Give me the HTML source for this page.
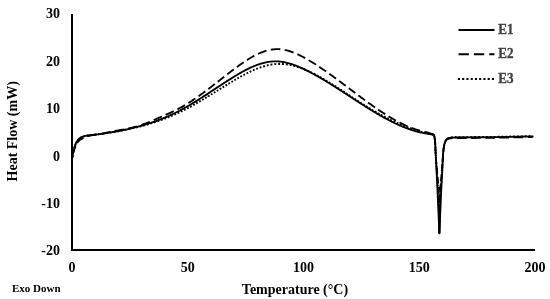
<!DOCTYPE html>
<html><head><meta charset="utf-8"><style>
html,body{margin:0;padding:0;background:#fff;}
svg{display:block;}
text{font-family:"Liberation Serif", "Times New Roman", serif;font-weight:bold;}
</style></head><body>
<svg width="550" height="299" viewBox="0 0 550 299">
<rect x="0" y="0" width="550" height="299" fill="#fff"/>
<g fill="none" stroke="#000" stroke-linejoin="round">

<path d="M72.52,156.19L72.53,156.16L72.61,155.69L72.69,155.21L72.75,154.84M73.01,153.50L73.03,153.41L73.13,152.94L73.22,152.46L73.29,152.15M73.60,150.81L73.62,150.75L73.73,150.27L73.85,149.79L73.93,149.47M74.28,148.13L74.30,148.05L74.43,147.59L74.56,147.13L74.66,146.80M75.09,145.47L75.10,145.45L75.27,144.99L75.44,144.54L75.60,144.16M76.18,142.86L76.22,142.78L76.44,142.36L76.66,141.95L76.87,141.59M77.74,140.38L77.74,140.37L78.05,140.01L78.36,139.65L78.67,139.31L78.76,139.22M79.94,138.15L79.97,138.13L80.38,137.86L80.80,137.63L81.22,137.41L81.46,137.30M83.14,136.62L83.22,136.59L83.63,136.45L84.05,136.32L84.47,136.19L84.88,136.07L84.91,136.06M86.76,135.66L86.80,135.65L87.22,135.58L87.63,135.52L88.05,135.46L88.47,135.40L88.66,135.38M90.57,135.13L90.63,135.12L91.05,135.07L91.47,135.01L91.88,134.96L92.30,134.91L92.49,134.89M94.40,134.67L94.47,134.67L94.88,134.62L95.30,134.58L95.72,134.53L96.13,134.49L96.32,134.47M98.25,134.27L98.30,134.26L98.72,134.22L99.13,134.18L99.55,134.14L99.93,134.11L100.17,134.07M102.06,133.77L102.09,133.77L102.55,133.70L103.00,133.64L103.45,133.57L103.91,133.50L103.96,133.50M105.86,133.21L105.91,133.21L106.36,133.14L106.82,133.07L107.27,133.00L107.73,132.93L107.76,132.92M109.66,132.63L109.73,132.62L110.18,132.54L110.64,132.47L111.09,132.40L111.55,132.32L111.55,132.32M113.44,132.01L113.45,132.01L113.91,131.93L114.36,131.86L114.82,131.78L115.27,131.70L115.33,131.69M117.21,131.36L117.27,131.35L117.73,131.27L118.18,131.19L118.64,131.11L119.09,131.03L119.10,131.03M120.97,130.68L121.00,130.67L121.45,130.59L121.91,130.50L122.36,130.42L122.82,130.33L122.85,130.32M124.72,129.96L124.73,129.95L125.18,129.86L125.64,129.77L126.09,129.68L126.55,129.59L126.59,129.58M128.45,129.19L128.45,129.19L128.91,129.09L129.36,128.99L129.82,128.90L130.27,128.80L130.30,128.79M132.16,128.38L132.18,128.37L132.64,128.27L133.09,128.17L133.55,128.06L134.00,127.96L134.00,127.96M135.84,127.52L135.91,127.51L136.36,127.40L136.82,127.29L137.27,127.18L137.68,127.08M139.51,126.62L139.55,126.61L140.00,126.49L140.45,126.38L140.91,126.26L141.33,126.15M143.14,125.67L143.18,125.65L143.64,125.53L144.09,125.41L144.55,125.28L144.95,125.17M146.75,124.66L146.82,124.64L147.27,124.51L147.73,124.38L148.18,124.24L148.55,124.14M150.33,123.60L150.36,123.59L150.82,123.45L151.27,123.31L151.73,123.17L152.11,123.05M153.88,122.49L153.91,122.48L154.36,122.33L154.82,122.18L155.27,122.03L155.64,121.91M157.39,121.32L157.45,121.30L157.91,121.14L158.36,120.99L158.82,120.83L159.13,120.72M160.86,120.10L160.91,120.08L161.36,119.92L161.82,119.75L162.27,119.59L162.58,119.47M164.29,118.83L164.36,118.80L164.82,118.63L165.27,118.45L165.73,118.27L165.99,118.17M167.68,117.50L167.73,117.48L168.18,117.30L168.64,117.11L169.09,116.93L169.36,116.82M171.03,116.12L171.09,116.09L171.55,115.90L172.00,115.71L172.45,115.51L172.69,115.41M174.33,114.69L174.36,114.67L174.82,114.47L175.27,114.27L175.73,114.06L175.97,113.95M177.59,113.20L177.67,113.17L178.08,112.97L178.50,112.78L178.92,112.58L179.20,112.44M180.80,111.67L180.83,111.65L181.25,111.45L181.67,111.24L182.08,111.04L182.38,110.89M183.96,110.09L184.00,110.07L184.42,109.86L184.83,109.64L185.25,109.43L185.52,109.28M187.08,108.47L187.08,108.47L187.50,108.25L187.92,108.02L188.33,107.80L188.62,107.65M190.16,106.81L190.17,106.81L190.58,106.58L191.00,106.35L191.42,106.12L191.69,105.97M193.21,105.13L193.25,105.10L193.67,104.87L194.08,104.63L194.50,104.40L194.72,104.27M196.22,103.41L196.25,103.40L196.67,103.16L197.08,102.92L197.50,102.68L197.72,102.55M199.22,101.68L199.25,101.66L199.67,101.42L200.08,101.17L200.50,100.93L200.70,100.81M202.19,99.93L202.25,99.89L202.67,99.64L203.08,99.39L203.50,99.14L203.66,99.04M205.14,98.16L205.17,98.14L205.58,97.89L206.00,97.64L206.42,97.39L206.61,97.27M208.08,96.38L208.08,96.37L208.50,96.12L208.92,95.87L209.33,95.61L209.54,95.48M211.00,94.59L211.08,94.54L211.50,94.28L211.92,94.03L212.33,93.77L212.46,93.69M213.92,92.79L214.00,92.74L214.42,92.48L214.83,92.23L215.25,91.97L215.37,91.89M216.83,90.99L216.83,90.99L217.25,90.73L217.67,90.47L218.08,90.22L218.28,90.09M219.74,89.19L219.75,89.18L220.17,88.93L220.58,88.67L221.00,88.41L221.19,88.29M222.65,87.39L222.67,87.38L223.08,87.12L223.50,86.87L223.92,86.61L224.11,86.49M225.57,85.59L225.58,85.58L226.00,85.33L226.42,85.07L226.83,84.82L227.03,84.70M228.49,83.80L228.50,83.80L228.92,83.54L229.33,83.29L229.75,83.04L229.96,82.91M231.43,82.02L231.50,81.98L231.92,81.73L232.33,81.48L232.75,81.23L232.90,81.14M234.38,80.25L234.42,80.23L234.83,79.99L235.25,79.74L235.67,79.49L235.86,79.38M237.36,78.51L237.42,78.47L237.83,78.23L238.25,77.99L238.67,77.75L238.86,77.64M240.37,76.79L240.42,76.76L240.83,76.53L241.25,76.29L241.67,76.06L241.89,75.94M243.42,75.11L243.50,75.06L243.92,74.84L244.33,74.61L244.75,74.39L244.96,74.28M246.52,73.47L246.58,73.44L247.00,73.22L247.42,73.01L247.83,72.80L248.09,72.67M249.69,71.89L249.75,71.86L250.17,71.66L250.58,71.46L251.00,71.26L251.29,71.13M252.92,70.38L253.00,70.35L253.45,70.15L253.91,69.95L254.36,69.75L254.57,69.67M256.24,68.97L256.27,68.96L256.73,68.77L257.18,68.59L257.64,68.42L257.93,68.30M259.65,67.67L259.73,67.64L260.18,67.48L260.64,67.32L261.09,67.17L261.39,67.07M263.16,66.50L263.18,66.50L263.64,66.36L264.09,66.23L264.55,66.10L264.95,65.99M266.78,65.52L266.82,65.51L267.27,65.40L267.73,65.29L268.18,65.19L268.63,65.10M270.50,64.74L270.55,64.73L271.00,64.65L271.45,64.58L271.91,64.51L272.36,64.45L272.39,64.45M274.31,64.22L274.36,64.21L274.82,64.17L275.27,64.13L275.73,64.09L276.18,64.06L276.24,64.06M278.18,63.96L278.18,63.96L278.64,63.95L279.09,63.95L279.55,63.94L280.00,63.94L280.12,63.94M282.06,63.99L282.09,64.00L282.55,64.02L283.00,64.04L283.45,64.08L283.91,64.11L283.99,64.11M285.92,64.30L286.00,64.31L286.45,64.37L286.91,64.43L287.36,64.49L287.82,64.56L287.82,64.56M289.71,64.88L289.73,64.88L290.18,64.97L290.64,65.06L291.09,65.15L291.55,65.25L291.58,65.26M293.42,65.69L293.45,65.70L293.91,65.81L294.36,65.94L294.82,66.06L295.23,66.17M297.02,66.70L297.09,66.72L297.55,66.87L298.00,67.01L298.45,67.16L298.79,67.27M300.53,67.88L300.55,67.89L301.00,68.05L301.45,68.22L301.91,68.39L302.24,68.52M303.93,69.19L304.00,69.21L304.45,69.40L304.91,69.59L305.36,69.78L305.60,69.88M307.25,70.60L307.27,70.61L307.73,70.81L308.18,71.02L308.64,71.22L308.88,71.34M310.50,72.09L310.50,72.10L310.92,72.30L311.33,72.50L311.75,72.70L312.09,72.87M313.67,73.66L313.75,73.70L314.17,73.91L314.58,74.12L315.00,74.34L315.24,74.46M316.79,75.28L316.83,75.30L317.25,75.53L317.67,75.75L318.08,75.98L318.33,76.11M319.86,76.95L319.92,76.99L320.33,77.22L320.75,77.45L321.17,77.69L321.37,77.80M322.87,78.66L322.92,78.69L323.33,78.93L323.75,79.17L324.17,79.42L324.37,79.53M325.85,80.41L325.92,80.45L326.33,80.70L326.75,80.95L327.17,81.20L327.33,81.30M328.79,82.19L328.83,82.21L329.25,82.47L329.67,82.72L330.08,82.98L330.25,83.08M331.71,83.99L331.75,84.01L332.17,84.27L332.58,84.54L333.00,84.80L333.15,84.89M334.59,85.81L334.67,85.85L335.08,86.12L335.50,86.38L335.92,86.65L336.03,86.72M337.46,87.64L337.50,87.67L337.92,87.93L338.33,88.20L338.75,88.47L338.89,88.56M340.31,89.49L340.33,89.50L340.75,89.77L341.17,90.05L341.58,90.32L341.73,90.42M343.15,91.34L343.17,91.35L343.58,91.63L344.00,91.90L344.42,92.17L344.57,92.27M345.98,93.21L346.00,93.22L346.42,93.49L346.83,93.76L347.25,94.04L347.40,94.14M348.81,95.07L348.83,95.08L349.25,95.36L349.67,95.63L350.08,95.91L350.23,96.00M351.64,96.93L351.67,96.95L352.08,97.22L352.50,97.49L352.92,97.77L353.06,97.86M354.48,98.79L354.50,98.80L354.92,99.08L355.33,99.35L355.75,99.62L355.90,99.72M357.33,100.64L357.33,100.65L357.75,100.92L358.17,101.19L358.58,101.46L358.75,101.57M360.18,102.48L360.25,102.53L360.67,102.79L361.08,103.06L361.50,103.32L361.62,103.40M363.06,104.31L363.08,104.33L363.50,104.59L363.92,104.85L364.33,105.11L364.51,105.22M365.96,106.12L366.00,106.15L366.42,106.40L366.83,106.66L367.25,106.91L367.42,107.02M368.89,107.91L368.92,107.93L369.33,108.18L369.75,108.43L370.17,108.68L370.36,108.80M371.84,109.68L371.92,109.72L372.33,109.97L372.75,110.21L373.17,110.45L373.33,110.55M374.83,111.42L374.83,111.42L375.25,111.66L375.67,111.90L376.08,112.14L376.33,112.28M377.84,113.13L377.92,113.18L378.33,113.41L378.75,113.64L379.17,113.87L379.36,113.98M380.89,114.82L380.92,114.83L381.33,115.06L381.75,115.29L382.17,115.51L382.43,115.65M383.97,116.47L384.00,116.49L384.42,116.71L384.83,116.93L385.25,117.15L385.53,117.29M387.09,118.10L387.17,118.14L387.58,118.35L388.00,118.56L388.42,118.77L388.66,118.89M390.25,119.68L390.25,119.68L390.67,119.89L391.08,120.09L391.50,120.29L391.84,120.46M393.44,121.23L393.50,121.25L393.92,121.45L394.33,121.65L394.75,121.84L395.06,121.98M396.68,122.73L396.73,122.75L397.18,122.96L397.64,123.16L398.09,123.36L398.32,123.46M399.96,124.19L400.00,124.20L400.45,124.40L400.91,124.59L401.36,124.79L401.62,124.89M403.29,125.59L403.36,125.62L403.82,125.81L404.27,125.99L404.73,126.18L404.97,126.27M406.66,126.94L406.73,126.97L407.18,127.14L407.64,127.32L408.09,127.49L408.36,127.59M410.08,128.23L410.09,128.23L410.55,128.40L411.00,128.56L411.45,128.72L411.81,128.85M413.55,129.45L413.64,129.48L414.09,129.64L414.55,129.79L415.00,129.94L415.30,130.04M417.07,130.60L417.09,130.61L417.55,130.75L418.00,130.89L418.45,131.03L418.85,131.15M420.64,131.68L420.73,131.70L421.18,131.83L421.64,131.96L422.09,132.09L422.44,132.18M424.26,132.67L424.27,132.67L424.73,132.79L425.18,132.90L425.64,133.01L426.09,133.13M427.93,133.56L428.00,133.58L428.45,133.68L428.91,133.78L429.36,133.88L429.78,133.97M431.64,134.36L431.73,134.38L432.18,134.47L432.64,134.56L433.09,134.64L433.51,134.72M434.19,135.81L434.21,135.89L434.30,136.38L434.40,136.87L434.45,137.16M434.71,138.50L434.72,138.53L434.81,139.02L434.91,139.51L434.97,139.85M435.06,141.21L435.06,141.29L435.09,141.79L435.11,142.29L435.13,142.57M435.20,143.93L435.20,143.98L435.22,144.48L435.25,144.98L435.26,145.29M435.33,146.64L435.33,146.67L435.36,147.16L435.38,147.66L435.40,148.00M435.47,149.36L435.47,149.45L435.50,149.95L435.52,150.45L435.54,150.72M435.60,152.08L435.61,152.14L435.63,152.64L435.66,153.13L435.67,153.44M435.74,154.80L435.74,154.83L435.77,155.32L435.79,155.82L435.81,156.16M435.88,157.52L435.88,157.61L435.91,158.11L435.93,158.61L435.94,158.88M436.02,160.23L436.02,160.30L436.06,160.80L436.09,161.30L436.11,161.59M436.21,162.95L436.21,162.99L436.24,163.49L436.28,163.99L436.30,164.31M436.40,165.67L436.40,165.68L436.43,166.18L436.47,166.68L436.49,167.02M436.59,168.38L436.59,168.47L436.63,168.97L436.66,169.47L436.68,169.74M436.78,171.10L436.78,171.16L436.82,171.66L436.85,172.16L436.87,172.46M436.97,173.82L436.97,173.85L437.00,174.35L437.04,174.85L437.06,175.17M437.16,176.53L437.16,176.54L437.19,177.04L437.23,177.54L437.25,177.89M437.35,179.25L437.35,179.34L437.39,179.83L437.42,180.33L437.44,180.61M437.54,181.96L437.54,182.03L437.58,182.52L437.61,183.02L437.63,183.32M437.73,184.68L437.73,184.72L437.77,185.22L437.80,185.71L437.82,186.04M437.92,187.40L437.92,187.41L437.95,187.91L437.99,188.41L438.01,188.75M438.10,190.11L438.11,190.20L438.12,190.70L438.14,191.20L438.15,191.47M438.20,192.83L438.20,192.89L438.22,193.39L438.23,193.89L438.24,194.19M438.29,195.55L438.29,195.58L438.31,196.08L438.32,196.58L438.33,196.91M438.38,198.27L438.38,198.27L438.40,198.77L438.42,199.27L438.43,199.63M438.47,200.99L438.48,201.06L438.49,201.56L438.51,202.06L438.52,202.35M438.57,203.71L438.57,203.75L438.58,204.25L438.60,204.75L438.61,205.07M438.66,206.43L438.66,206.45L438.68,206.94L438.69,207.44L438.70,207.78M438.75,209.14L438.75,209.24L438.77,209.73L438.79,210.23L438.80,210.50M438.84,211.86L438.85,211.93L438.86,212.43L438.88,212.92L438.89,213.22M438.94,214.58L438.94,214.62L438.95,215.12L438.97,215.61L438.98,215.94M439.03,217.30L439.03,217.31L439.05,217.81L439.06,218.31L439.07,218.66M439.12,220.02L439.12,220.10L439.13,220.60L439.14,221.09L439.14,221.38M439.17,222.74L439.17,222.78L439.18,223.28L439.18,223.77L439.19,224.10M439.21,225.46L439.21,225.46L439.22,225.96L439.23,226.45L439.24,226.82M439.26,228.18L439.26,228.24L439.27,228.73L439.28,229.23L439.28,229.54M439.31,230.90L439.31,230.92L439.32,231.41L439.32,231.91L439.33,232.26M439.36,233.18L439.36,233.10L439.37,232.61L439.39,232.11L439.39,231.83M439.43,230.47L439.43,230.43L439.44,229.93L439.46,229.43L439.47,229.11M439.50,227.75L439.51,227.65L439.52,227.15L439.53,226.66L439.54,226.39M439.58,225.03L439.58,224.97L439.59,224.48L439.61,223.98L439.61,223.67M439.65,222.31L439.65,222.30L439.67,221.80L439.68,221.30L439.69,220.95M439.73,219.59L439.73,219.51L439.74,219.01L439.76,218.51L439.76,218.23M439.80,216.87L439.80,216.82L439.82,216.32L439.83,215.82L439.84,215.51M439.88,214.15L439.88,214.13L439.89,213.63L439.90,213.13L439.91,212.79M439.95,211.43L439.95,211.34L439.97,210.84L439.98,210.34L439.99,210.07M440.02,208.71L440.03,208.65L440.04,208.15L440.05,207.65L440.06,207.35M440.10,205.99L440.10,205.96L440.11,205.46L440.13,204.96L440.14,204.64M440.17,203.28L440.17,203.27L440.19,202.77L440.20,202.27L440.21,201.92M440.25,200.56L440.25,200.48L440.26,199.98L440.28,199.48L440.28,199.20M440.32,197.84L440.32,197.79L440.34,197.29L440.35,196.79L440.36,196.48M440.40,195.12L440.40,195.10L440.43,194.60L440.46,194.10L440.49,193.76M440.58,192.40L440.59,192.31L440.62,191.81L440.66,191.31L440.68,191.04M440.77,189.69L440.78,189.62L440.81,189.12L440.85,188.63L440.87,188.33M440.96,186.97L440.96,186.93L441.00,186.43L441.03,185.94L441.06,185.61M441.15,184.25L441.15,184.24L441.19,183.75L441.22,183.25L441.25,182.90M441.34,181.54L441.35,181.45L441.38,180.96L441.42,180.46L441.44,180.18M441.53,178.82L441.54,178.76L441.57,178.27L441.61,177.77L441.63,177.46M441.72,176.10L441.72,176.08L441.76,175.58L441.79,175.08L441.82,174.75M441.91,173.39L441.91,173.39L441.95,172.89L441.98,172.39L442.01,172.03M442.10,170.67L442.11,170.60L442.14,170.10L442.17,169.60L442.19,169.31M442.27,167.96L442.27,167.91L442.30,167.41L442.33,166.92L442.35,166.60M442.43,165.24L442.43,165.23L442.46,164.73L442.49,164.23L442.51,163.88M442.59,162.52L442.59,162.44L442.62,161.94L442.65,161.45L442.67,161.16M442.74,159.80L442.75,159.76L442.78,159.26L442.81,158.76L442.82,158.45M442.90,157.09L442.90,157.07L442.93,156.57L442.96,156.08L442.98,155.73M443.06,154.37L443.07,154.29L443.10,153.79L443.12,153.29L443.14,153.01M443.25,151.65L443.26,151.61L443.33,151.11L443.40,150.62L443.44,150.30M443.64,148.95L443.64,148.94L443.71,148.45L443.78,147.96L443.83,147.59M444.02,146.24L444.03,146.18L444.10,145.69L444.17,145.20L444.23,144.89M444.62,143.56L444.64,143.48L444.78,143.00L444.92,142.53L445.00,142.22M445.51,140.92L445.54,140.89L445.85,140.49L446.15,140.10L446.44,139.73M447.59,138.67L447.60,138.66L448.03,138.42L448.47,138.18L448.90,137.94L449.11,137.82M450.93,137.46L450.95,137.45L451.44,137.41L451.92,137.36L452.40,137.31L452.86,137.29M454.80,137.23L454.83,137.23L455.32,137.22L455.81,137.21L456.30,137.20L456.74,137.19M458.68,137.18L458.69,137.18L459.19,137.18L459.69,137.17L460.19,137.17L460.62,137.16M462.57,137.15L462.58,137.15L463.08,137.14L463.58,137.14L464.08,137.14L464.51,137.13M466.45,137.12L466.47,137.12L466.97,137.11L467.47,137.11L467.97,137.11L468.39,137.10M470.33,137.09L470.36,137.09L470.86,137.08L471.36,137.08L471.86,137.08L472.28,137.07M474.22,137.06L474.25,137.06L474.75,137.05L475.25,137.05L475.75,137.05L476.16,137.04M478.10,137.03L478.14,137.03L478.64,137.02L479.14,137.02L479.64,137.02L480.05,137.01M481.99,137.00L482.03,137.00L482.53,136.99L483.03,136.99L483.53,136.99L483.93,136.98M485.87,136.97L485.92,136.97L486.42,136.96L486.92,136.96L487.42,136.96L487.82,136.95M489.76,136.94L489.81,136.94L490.31,136.93L490.81,136.93L491.31,136.92L491.70,136.92M493.64,136.91L493.70,136.91L494.20,136.90L494.70,136.90L495.20,136.89L495.59,136.88M497.53,136.84L497.59,136.84L498.09,136.82L498.59,136.81L499.09,136.80L499.47,136.80M501.41,136.76L501.48,136.75L501.98,136.74L502.48,136.73L502.98,136.72L503.35,136.71M505.29,136.67L505.37,136.67L505.87,136.66L506.37,136.65L506.87,136.64L507.23,136.63M509.18,136.59L509.26,136.59L509.76,136.58L510.26,136.57L510.76,136.56L511.12,136.55M513.06,136.51L513.15,136.51L513.65,136.50L514.15,136.49L514.65,136.48L515.00,136.47M516.94,136.43L517.04,136.43L517.54,136.42L518.04,136.41L518.54,136.40L518.88,136.39M520.83,136.35L520.83,136.35L521.33,136.34L521.83,136.33L522.33,136.32L522.77,136.31M524.71,136.27L524.72,136.27L525.22,136.26L525.72,136.25L526.22,136.24L526.65,136.23M528.59,136.19L528.61,136.19L529.11,136.18L529.61,136.16L530.11,136.15L530.53,136.15M532.48,136.10L532.50,136.10L532.70,136.10" stroke-width="1.9"/>
<path d="M72.30,158.00L72.32,157.90L72.42,157.43L72.51,156.95L72.61,156.47L72.70,155.99L72.79,155.56M73.52,152.43L73.54,152.37L73.66,151.90L73.78,151.42L73.91,150.96L74.04,150.49L74.17,150.02L74.30,149.55L74.45,149.09L74.59,148.62L74.74,148.15L74.90,147.69L75.07,147.24L75.23,146.79L75.41,146.35L75.59,145.91L75.61,145.86M77.16,142.88L77.19,142.84L77.49,142.45L77.80,142.06L78.11,141.72L78.42,141.38L78.74,141.05L79.05,140.74L79.37,140.43L79.73,140.12L80.09,139.84L80.44,139.59L80.80,139.35L81.22,139.09L81.63,138.85L82.05,138.62L82.47,138.39L82.88,138.17L83.30,137.95L83.42,137.88M87.25,136.22L87.30,136.20L87.72,136.10L88.13,135.99L88.55,135.90L88.97,135.81L89.38,135.72L89.80,135.64L90.22,135.56L90.63,135.48L91.05,135.41L91.47,135.34L91.88,135.27L92.30,135.20L92.72,135.14L93.13,135.08L93.55,135.02L93.97,134.96L94.38,134.90L94.80,134.85L95.22,134.80L95.63,134.74L96.05,134.69L96.47,134.65L96.59,134.63M101.03,134.08L101.09,134.06L101.55,133.94L102.00,133.82L102.45,133.70L102.91,133.58L103.36,133.47L103.82,133.35L104.27,133.24L104.73,133.13L105.18,133.02L105.64,132.92L106.09,132.81L106.55,132.71L107.00,132.61L107.45,132.51L107.91,132.41L108.36,132.31L108.82,132.22L109.27,132.12L109.73,132.03L110.16,131.94M114.52,131.10L114.55,131.10L115.00,131.01L115.45,130.93L115.91,130.85L116.36,130.76L116.82,130.68L117.27,130.60L117.73,130.52L118.18,130.43L118.64,130.35L119.09,130.27L119.55,130.19L120.00,130.10L120.45,130.02L120.91,129.94L121.36,129.85L121.82,129.77L122.27,129.69L122.73,129.60L123.18,129.52L123.64,129.43L123.83,129.39M128.18,128.53L128.27,128.51L128.73,128.41L129.18,128.31L129.64,128.22L130.09,128.12L130.55,128.01L131.00,127.91L131.45,127.80L131.91,127.70L132.36,127.59L132.82,127.48L133.27,127.37L133.73,127.25L134.18,127.14L134.64,127.02L135.09,126.90L135.55,126.78L136.00,126.65L136.45,126.53L136.91,126.40L137.26,126.30M141.38,124.99L141.45,124.97L141.91,124.81L142.36,124.65L142.82,124.49L143.27,124.33L143.73,124.16L144.18,123.99L144.64,123.82L145.09,123.65L145.55,123.48L146.00,123.30L146.45,123.12L146.91,122.94L147.36,122.76L147.82,122.58L148.27,122.39L148.73,122.21L149.18,122.02L149.64,121.83L149.82,121.75M153.68,120.10L153.73,120.08L154.18,119.88L154.64,119.68L155.09,119.49L155.55,119.29L156.00,119.09L156.45,118.89L156.91,118.69L157.36,118.49L157.82,118.29L158.27,118.09L158.73,117.89L159.18,117.69L159.64,117.49L160.09,117.29L160.55,117.09L161.00,116.89L161.45,116.69L161.83,116.52M165.67,114.85L165.73,114.82L166.18,114.62L166.64,114.42L167.09,114.22L167.55,114.02L168.00,113.82L168.45,113.61L168.91,113.41L169.36,113.20L169.82,113.00L170.27,112.79L170.73,112.58L171.17,112.38L171.58,112.19L172.00,112.00L172.42,111.80L172.83,111.60L173.25,111.41L173.67,111.21L173.74,111.17M177.44,109.34L177.50,109.31L177.92,109.10L178.33,108.88L178.75,108.66L179.17,108.44L179.58,108.22L180.00,108.00L180.42,107.77L180.83,107.54L181.25,107.31L181.67,107.08L182.08,106.85L182.50,106.61L182.92,106.37L183.33,106.13L183.75,105.89L184.17,105.65L184.58,105.40L184.98,105.17M188.39,103.08L188.42,103.06L188.83,102.79L189.25,102.53L189.67,102.26L190.08,101.99L190.50,101.72L190.92,101.45L191.33,101.18L191.75,100.91L192.15,100.64L192.54,100.38L192.92,100.13L193.31,99.87L193.69,99.61L194.08,99.35L194.46,99.08L194.85,98.82L195.23,98.56L195.38,98.45M198.58,96.21L198.62,96.19L199.00,95.92L199.38,95.64L199.77,95.36L200.15,95.09L200.54,94.81L200.92,94.53L201.31,94.25L201.69,93.97L202.08,93.69L202.46,93.41L202.85,93.13L203.23,92.84L203.62,92.56L204.00,92.27L204.38,91.99L204.77,91.70L205.15,91.41L205.24,91.35M208.32,89.03L208.38,88.98L208.77,88.68L209.15,88.39L209.54,88.10L209.92,87.80L210.31,87.51L210.69,87.21L211.08,86.92L211.46,86.62L211.85,86.33L212.23,86.03L212.62,85.73L213.00,85.44L213.38,85.14L213.77,84.84L214.15,84.54L214.54,84.24L214.80,84.04M217.82,81.69L217.85,81.67L218.23,81.37L218.62,81.07L219.00,80.77L219.38,80.47L219.77,80.17L220.15,79.87L220.54,79.57L220.92,79.27L221.31,78.97L221.69,78.67L222.08,78.37L222.46,78.07L222.85,77.77L223.23,77.47L223.62,77.17L224.00,76.87L224.25,76.67M227.28,74.32L227.31,74.30L227.69,74.00L228.08,73.70L228.46,73.41L228.85,73.11L229.23,72.81L229.62,72.52L230.00,72.22L230.38,71.93L230.77,71.63L231.15,71.34L231.54,71.05L231.92,70.76L232.31,70.46L232.69,70.17L233.08,69.88L233.46,69.59L233.78,69.35M236.88,67.04L236.92,67.02L237.31,66.73L237.69,66.45L238.08,66.17L238.46,65.90L238.85,65.62L239.23,65.34L239.62,65.07L240.00,64.79L240.38,64.52L240.77,64.25L241.15,63.98L241.54,63.71L241.92,63.45L242.31,63.18L242.69,62.92L243.08,62.65L243.46,62.39L243.66,62.26M246.96,60.09L247.00,60.07L247.42,59.81L247.83,59.54L248.25,59.29L248.67,59.03L249.08,58.77L249.50,58.52L249.92,58.27L250.33,58.02L250.75,57.78L251.17,57.54L251.58,57.30L252.00,57.06L252.42,56.82L252.83,56.59L253.25,56.36L253.67,56.14L254.08,55.91L254.34,55.78M258.03,53.94L258.09,53.91L258.55,53.71L259.00,53.50L259.45,53.30L259.91,53.10L260.36,52.91L260.82,52.72L261.27,52.54L261.73,52.36L262.18,52.19L262.64,52.02L263.09,51.85L263.55,51.69L264.00,51.53L264.45,51.38L264.91,51.23L265.36,51.08L265.82,50.94L266.27,50.81L266.49,50.75M270.78,49.75L270.82,49.74L271.27,49.66L271.73,49.59L272.18,49.52L272.64,49.46L273.09,49.40L273.55,49.35L274.00,49.31L274.45,49.27L274.91,49.23L275.36,49.21L275.82,49.18L276.27,49.17L276.73,49.16L277.18,49.16L277.64,49.16L278.09,49.16L278.55,49.18L279.00,49.20L279.45,49.23L279.91,49.26L280.32,49.29M284.75,49.93L284.82,49.95L285.27,50.04L285.73,50.14L286.18,50.24L286.64,50.35L287.09,50.47L287.55,50.59L288.00,50.71L288.45,50.84L288.91,50.97L289.36,51.11L289.82,51.25L290.27,51.39L290.73,51.54L291.18,51.70L291.64,51.86L292.09,52.02L292.55,52.18L293.00,52.35L293.45,52.53L293.58,52.58M297.45,54.22L297.45,54.22L297.91,54.42L298.33,54.62L298.75,54.82L299.17,55.02L299.58,55.22L300.00,55.42L300.42,55.63L300.83,55.84L301.25,56.05L301.67,56.27L302.08,56.48L302.50,56.70L302.92,56.92L303.33,57.15L303.75,57.37L304.17,57.60L304.58,57.83L305.00,58.06L305.22,58.18M308.72,60.20L308.75,60.22L309.17,60.46L309.58,60.71L310.00,60.96L310.42,61.22L310.83,61.47L311.25,61.72L311.67,61.98L312.08,62.23L312.50,62.49L312.92,62.75L313.33,63.01L313.75,63.27L314.17,63.54L314.58,63.80L315.00,64.07L315.42,64.33L315.83,64.60L315.92,64.66M319.23,66.82L319.31,66.87L319.69,67.13L320.08,67.38L320.46,67.64L320.85,67.90L321.23,68.16L321.62,68.42L322.00,68.68L322.38,68.94L322.77,69.20L323.15,69.47L323.54,69.73L323.92,70.00L324.31,70.26L324.69,70.53L325.08,70.79L325.46,71.06L325.85,71.33L326.12,71.52M329.31,73.78L329.38,73.83L329.77,74.10L330.15,74.38L330.54,74.65L330.92,74.93L331.31,75.21L331.69,75.48L332.08,75.76L332.46,76.04L332.85,76.32L333.23,76.60L333.62,76.88L334.00,77.16L334.38,77.44L334.77,77.72L335.15,78.00L335.54,78.28L335.92,78.57L336.00,78.62M339.11,80.92L339.15,80.95L339.54,81.24L339.92,81.52L340.31,81.81L340.69,82.10L341.08,82.38L341.46,82.67L341.85,82.96L342.23,83.24L342.62,83.53L343.00,83.82L343.38,84.11L343.77,84.40L344.15,84.68L344.54,84.97L344.92,85.26L345.31,85.55L345.69,85.84M348.77,88.16L348.85,88.21L349.23,88.50L349.62,88.79L350.00,89.08L350.38,89.37L350.77,89.66L351.15,89.95L351.54,90.24L351.92,90.53L352.31,90.82L352.69,91.11L353.08,91.40L353.46,91.69L353.85,91.98L354.23,92.27L354.62,92.56L355.00,92.85L355.32,93.09M358.42,95.40L358.46,95.44L358.85,95.73L359.23,96.01L359.62,96.30L360.00,96.59L360.38,96.87L360.77,97.16L361.15,97.44L361.54,97.73L361.92,98.01L362.31,98.30L362.69,98.58L363.08,98.87L363.46,99.15L363.85,99.43L364.23,99.72L364.62,100.00L365.00,100.28L365.03,100.30M368.16,102.58L368.23,102.63L368.62,102.91L369.00,103.19L369.38,103.46L369.77,103.74L370.15,104.01L370.54,104.29L370.92,104.56L371.31,104.84L371.69,105.11L372.08,105.38L372.46,105.65L372.85,105.93L373.23,106.20L373.62,106.47L374.00,106.74L374.38,107.00L374.77,107.27L374.92,107.38M378.15,109.60L378.23,109.65L378.62,109.91L379.00,110.17L379.38,110.43L379.77,110.69L380.15,110.94L380.54,111.20L380.92,111.45L381.33,111.72L381.75,112.00L382.17,112.27L382.58,112.54L383.00,112.82L383.42,113.08L383.83,113.35L384.25,113.62L384.67,113.89L385.08,114.15L385.17,114.21M388.55,116.31L388.58,116.33L389.00,116.59L389.42,116.84L389.83,117.09L390.25,117.34L390.67,117.58L391.08,117.83L391.50,118.08L391.92,118.32L392.33,118.56L392.75,118.80L393.17,119.04L393.58,119.28L394.00,119.52L394.42,119.75L394.83,119.98L395.25,120.21L395.67,120.44L395.96,120.61M399.57,122.52L399.58,122.53L400.00,122.74L400.42,122.95L400.83,123.16L401.25,123.37L401.67,123.58L402.08,123.78L402.50,123.98L402.92,124.18L403.33,124.38L403.75,124.58L404.17,124.77L404.58,124.97L405.00,125.16L405.45,125.36L405.91,125.57L406.36,125.77L406.82,125.97L407.27,126.17L407.55,126.28M411.47,127.87L411.55,127.90L412.00,128.07L412.45,128.24L412.91,128.41L413.36,128.57L413.82,128.73L414.27,128.89L414.73,129.04L415.18,129.20L415.64,129.35L416.09,129.50L416.55,129.64L417.00,129.78L417.45,129.92L417.91,130.06L418.36,130.19L418.82,130.32L419.27,130.45L419.73,130.58L420.18,130.70L420.19,130.70M424.46,131.77L424.55,131.79L425.00,131.90L425.45,132.02L425.91,132.13L426.36,132.25L426.82,132.37L427.27,132.49L427.73,132.62L428.18,132.75L428.64,132.89L429.09,133.02L429.55,133.17L430.00,133.31L430.45,133.47L430.91,133.63L431.36,133.80L431.82,133.97L432.27,134.15L432.73,134.34L433.18,134.53L433.20,134.54M434.49,137.38L434.50,137.45L434.60,137.94L434.69,138.43L434.79,138.92L434.88,139.41L434.98,139.90L435.02,140.40L435.04,140.90L435.07,141.39L435.09,141.89L435.12,142.39L435.14,142.89L435.17,143.38L435.19,143.88L435.20,144.09M435.36,147.26L435.36,147.26L435.39,147.76L435.41,148.26L435.44,148.76L435.46,149.25L435.49,149.75L435.51,150.25L435.54,150.75L435.56,151.24L435.59,151.74L435.61,152.24L435.64,152.74L435.66,153.23L435.69,153.73L435.70,153.99M435.86,157.16L435.86,157.21L435.89,157.71L435.91,158.21L435.94,158.71L435.96,159.20L435.99,159.70L436.02,160.20L436.06,160.70L436.11,161.19L436.16,161.69L436.20,162.19L436.25,162.68L436.30,163.18L436.34,163.68L436.36,163.88M436.66,167.05L436.66,167.05L436.70,167.55L436.75,168.05L436.80,168.54L436.84,169.04L436.89,169.54L436.94,170.03L436.98,170.53L437.03,171.03L437.08,171.52L437.12,172.02L437.17,172.52L437.21,173.01L437.26,173.51L437.28,173.77M437.58,176.93L437.59,176.99L437.63,177.48L437.68,177.98L437.72,178.48L437.77,178.97L437.82,179.47L437.86,179.97L437.91,180.46L437.96,180.96L438.00,181.46L438.05,181.95L438.10,182.45L438.14,182.95L438.19,183.44L438.21,183.65M438.50,186.81L438.50,186.82L438.55,187.32L438.60,187.81L438.64,188.31L438.69,188.81L438.74,189.30L438.78,189.80L438.81,190.30L438.82,190.80L438.83,191.30L438.84,191.79L438.85,192.29L438.86,192.79L438.88,193.29L438.88,193.54M438.96,196.71L438.96,196.78L438.97,197.28L438.98,197.77L438.99,198.27L439.00,198.77L439.01,199.27L439.03,199.77L439.04,200.27L439.05,200.76L439.06,201.26L439.07,201.76L439.08,202.26L439.09,202.76L439.11,203.26L439.11,203.45M439.18,206.62L439.18,206.64L439.20,207.14L439.21,207.64L439.22,208.14L439.23,208.64L439.24,209.14L439.25,209.63L439.27,210.13L439.28,210.63L439.29,211.13L439.30,211.63L439.31,212.13L439.32,212.62L439.33,213.12L439.34,213.35M439.41,216.52L439.42,216.61L439.43,217.11L439.44,217.61L439.45,218.11L439.46,218.60L439.47,219.10L439.48,219.60L439.49,220.10L439.49,220.60L439.48,221.09L439.48,221.59L439.47,222.08L439.47,222.58L439.46,223.08L439.46,223.25M439.42,226.42L439.42,226.45L439.42,226.95L439.41,227.44L439.41,227.94L439.40,228.44L439.40,228.93L439.39,229.43L439.39,229.93L439.38,230.42L439.38,230.92L439.37,231.41L439.37,231.91L439.36,232.41L439.36,232.90L439.35,233.16M439.36,230.47L439.36,230.43L439.36,229.93L439.36,229.43L439.36,228.94L439.36,228.44L439.36,227.95L439.37,227.45L439.37,226.96L439.37,226.46L439.37,225.97L439.37,225.47L439.37,224.97L439.37,224.48L439.37,223.98L439.38,223.74M439.40,220.57L439.40,220.51L439.40,220.01L439.41,219.51L439.42,219.01L439.42,218.51L439.43,218.01L439.43,217.52L439.44,217.02L439.44,216.52L439.45,216.02L439.46,215.52L439.46,215.03L439.47,214.53L439.47,214.03L439.48,213.83M439.51,210.66L439.51,210.64L439.52,210.14L439.53,209.65L439.53,209.15L439.54,208.65L439.54,208.15L439.55,207.65L439.56,207.15L439.56,206.66L439.57,206.16L439.57,205.66L439.58,205.16L439.59,204.66L439.59,204.17L439.59,203.93M439.63,200.76L439.63,200.68L439.64,200.18L439.64,199.68L439.65,199.18L439.66,198.69L439.66,198.19L439.67,197.69L439.67,197.19L439.68,196.69L439.69,196.20L439.69,195.70L439.70,195.20L439.73,194.70L439.77,194.21L439.79,194.02M440.08,190.86L440.08,190.83L440.12,190.34L440.17,189.84L440.21,189.35L440.26,188.85L440.30,188.35L440.35,187.86L440.40,187.36L440.44,186.87L440.49,186.37L440.53,185.87L440.58,185.38L440.62,184.88L440.67,184.38L440.69,184.14M440.98,180.98L440.98,180.91L441.03,180.42L441.07,179.92L441.12,179.42L441.16,178.93L441.21,178.43L441.25,177.94L441.30,177.44L441.34,176.94L441.39,176.45L441.43,175.95L441.48,175.46L441.52,174.96L441.57,174.46L441.59,174.25M441.88,171.09L441.88,170.99L441.93,170.50L441.98,170.00L442.01,169.50L442.04,169.01L442.08,168.51L442.11,168.01L442.14,167.51L442.18,167.02L442.21,166.52L442.25,166.02L442.28,165.52L442.31,165.03L442.35,164.53L442.36,164.36M442.57,161.20L442.58,161.15L442.61,160.65L442.65,160.15L442.68,159.66L442.71,159.16L442.75,158.66L442.78,158.17L442.81,157.67L442.85,157.17L442.88,156.67L442.92,156.18L442.95,155.68L442.98,155.18L443.02,154.69L443.03,154.47M443.30,151.31L443.31,151.21L443.38,150.72L443.45,150.23L443.52,149.73L443.59,149.24L443.66,148.75L443.74,148.25L443.81,147.76L443.88,147.27L443.95,146.77L444.02,146.28L444.09,145.79L444.16,145.30L444.25,144.81L444.31,144.61M445.21,141.50L445.22,141.48L445.42,141.04L445.73,140.65L446.03,140.26L446.33,139.86L446.64,139.47L446.94,139.08L447.38,138.92L447.87,138.83L448.35,138.73L448.83,138.63L449.31,138.54L449.79,138.47L450.27,138.42L450.76,138.37L451.24,138.33L451.73,138.28L452.21,138.23L452.47,138.20M457.00,138.09L457.10,138.09L457.60,138.09L458.09,138.08L458.59,138.08L459.09,138.08L459.59,138.07L460.09,138.07L460.59,138.06L461.09,138.06L461.59,138.06L462.08,138.05L462.58,138.05L463.08,138.04L463.58,138.04L464.08,138.04L464.58,138.03L465.08,138.03L465.58,138.03L466.07,138.02L466.57,138.02L466.62,138.02M471.15,137.98L471.16,137.98L471.66,137.98L472.16,137.97L472.66,137.97L473.16,137.97L473.65,137.96L474.15,137.96L474.65,137.95L475.15,137.95L475.65,137.95L476.15,137.94L476.65,137.94L477.15,137.94L477.64,137.93L478.14,137.93L478.64,137.92L479.14,137.92L479.64,137.92L480.14,137.91L480.64,137.91L480.77,137.91M485.30,137.87L485.32,137.87L485.82,137.87L486.32,137.86L486.82,137.86L487.32,137.86L487.82,137.85L488.32,137.85L488.81,137.84L489.31,137.84L489.81,137.84L490.31,137.83L490.81,137.83L491.31,137.82L491.81,137.82L492.31,137.82L492.80,137.81L493.30,137.81L493.80,137.81L494.30,137.80L494.80,137.79L494.92,137.79M499.44,137.70L499.49,137.70L499.99,137.69L500.48,137.67L500.98,137.66L501.48,137.65L501.98,137.64L502.48,137.63L502.98,137.62L503.48,137.61L503.98,137.60L504.47,137.59L504.97,137.58L505.47,137.57L505.97,137.56L506.47,137.55L506.97,137.54L507.47,137.53L507.96,137.52L508.46,137.51L508.96,137.50L509.06,137.50M513.59,137.40L513.65,137.40L514.15,137.39L514.65,137.38L515.15,137.37L515.64,137.36L516.14,137.35L516.64,137.34L517.14,137.33L517.64,137.32L518.14,137.30L518.64,137.29L519.14,137.28L519.63,137.27L520.13,137.26L520.63,137.25L521.13,137.24L521.63,137.23L522.13,137.22L522.63,137.21L523.13,137.20L523.21,137.20M527.73,137.10L527.81,137.10L528.31,137.09L528.81,137.08L529.31,137.07L529.81,137.06L530.31,137.05L530.80,137.04L531.30,137.03L531.80,137.02L532.30,137.01L532.70,137.00" stroke-width="1.85"/>
<path d="M72.30,157.50L72.80,154.54L73.30,152.09L73.80,149.98L74.30,148.05L74.80,146.30L75.30,144.89L75.80,143.67L76.30,142.60L76.80,141.70L77.30,140.95L77.80,140.30L78.30,139.72L78.80,139.18L79.30,138.67L79.80,138.24L80.30,137.91L80.80,137.63L81.30,137.37L81.80,137.14L82.30,136.94L82.80,136.74L83.30,136.56L83.80,136.39L84.30,136.24L84.80,136.09L85.30,135.96L85.80,135.84L86.30,135.74L86.80,135.65L87.30,135.57L87.80,135.49L88.30,135.42L88.80,135.36L89.30,135.29L89.80,135.23L90.30,135.16L90.80,135.10L91.30,135.03L91.80,134.97L92.30,134.91L92.80,134.85L93.30,134.80L93.80,134.74L94.30,134.68L94.80,134.63L95.30,134.58L95.80,134.52L96.30,134.47L96.80,134.42L97.30,134.36L97.80,134.31L98.30,134.26L98.80,134.21L99.30,134.17L99.80,134.12L100.00,134.10L101.00,133.83L102.00,133.69L103.00,133.55L104.00,133.41L105.00,133.26L106.00,133.12L107.00,132.97L108.00,132.82L109.00,132.66L110.00,132.50L111.00,132.34L112.00,132.18L113.00,132.01L114.00,131.84L115.00,131.67L116.00,131.49L117.00,131.31L118.00,131.13L119.00,130.94L120.00,130.75L121.00,130.56L122.00,130.36L123.00,130.16L124.00,129.96L125.00,129.75L126.00,129.54L127.00,129.33L128.00,129.11L129.00,128.88L130.00,128.65L131.00,128.42L132.00,128.19L133.00,127.95L134.00,127.70L135.00,127.45L136.00,127.20L137.00,126.94L138.00,126.68L139.00,126.41L140.00,126.13L141.00,125.86L142.00,125.57L143.00,125.29L144.00,124.99L145.00,124.70L146.00,124.39L147.00,124.08L148.00,123.77L149.00,123.45L150.00,123.12L151.00,122.79L152.00,122.46L153.00,122.12L154.00,121.77L155.00,121.41L156.00,121.06L157.00,120.69L158.00,120.32L159.00,119.94L160.00,119.56L161.00,119.17L162.00,118.77L163.00,118.37L164.00,117.96L165.00,117.54L166.00,117.12L167.00,116.69L168.00,116.25L169.00,115.81L170.00,115.36L171.00,114.90L172.00,114.44L173.00,113.97L174.00,113.49L175.00,113.01L176.00,112.51L177.00,112.01L178.00,111.51L179.00,110.99L180.00,110.47L181.00,109.94L182.00,109.40L183.00,108.86L184.00,108.31L185.00,107.75L186.00,107.18L187.00,106.61L188.00,106.03L189.00,105.45L190.00,104.86L191.00,104.27L192.00,103.67L193.00,103.06L194.00,102.45L195.00,101.84L196.00,101.22L197.00,100.60L198.00,99.97L199.00,99.35L200.00,98.71L201.00,98.08L202.00,97.44L203.00,96.79L204.00,96.15L205.00,95.50L206.00,94.85L207.00,94.20L208.00,93.55L209.00,92.90L210.00,92.24L211.00,91.59L212.00,90.93L213.00,90.27L214.00,89.61L215.00,88.96L216.00,88.30L217.00,87.64L218.00,86.98L219.00,86.33L220.00,85.67L221.00,85.02L222.00,84.37L223.00,83.72L224.00,83.07L225.00,82.42L226.00,81.78L227.00,81.14L228.00,80.50L229.00,79.86L230.00,79.23L231.00,78.60L232.00,77.98L233.00,77.35L234.00,76.74L235.00,76.13L236.00,75.52L237.00,74.93L238.00,74.33L239.00,73.75L240.00,73.17L241.00,72.60L242.00,72.04L243.00,71.49L244.00,70.95L245.00,70.42L246.00,69.89L247.00,69.38L248.00,68.88L249.00,68.40L250.00,67.92L251.00,67.46L252.00,67.01L253.00,66.57L254.00,66.15L255.00,65.74L256.00,65.35L257.00,64.97L258.00,64.61L259.00,64.26L260.00,63.93L261.00,63.62L262.00,63.33L263.00,63.05L264.00,62.79L265.00,62.55L266.00,62.34L267.00,62.14L268.00,61.96L269.00,61.80L270.00,61.67L271.00,61.55L272.00,61.46L273.00,61.39L274.00,61.35L275.00,61.32L276.00,61.32L277.00,61.35L278.00,61.40L279.00,61.47L280.00,61.56L281.00,61.68L282.00,61.81L283.00,61.97L284.00,62.15L285.00,62.34L286.00,62.56L287.00,62.79L288.00,63.04L289.00,63.31L290.00,63.60L291.00,63.90L292.00,64.22L293.00,64.55L294.00,64.90L295.00,65.27L296.00,65.64L297.00,66.04L298.00,66.44L299.00,66.86L300.00,67.29L301.00,67.73L302.00,68.18L303.00,68.64L304.00,69.11L305.00,69.59L306.00,70.08L307.00,70.58L308.00,71.09L309.00,71.61L310.00,72.13L311.00,72.65L312.00,73.19L313.00,73.73L314.00,74.28L315.00,74.83L316.00,75.39L317.00,75.95L318.00,76.52L319.00,77.09L320.00,77.67L321.00,78.25L322.00,78.84L323.00,79.43L324.00,80.03L325.00,80.63L326.00,81.24L327.00,81.85L328.00,82.46L329.00,83.08L330.00,83.69L331.00,84.32L332.00,84.94L333.00,85.57L334.00,86.20L335.00,86.84L336.00,87.47L337.00,88.11L338.00,88.75L339.00,89.40L340.00,90.04L341.00,90.68L342.00,91.33L343.00,91.98L344.00,92.63L345.00,93.28L346.00,93.93L347.00,94.58L348.00,95.23L349.00,95.89L350.00,96.54L351.00,97.19L352.00,97.84L353.00,98.49L354.00,99.15L355.00,99.80L356.00,100.45L357.00,101.09L358.00,101.74L359.00,102.39L360.00,103.03L361.00,103.67L362.00,104.31L363.00,104.95L364.00,105.59L365.00,106.22L366.00,106.85L367.00,107.48L368.00,108.11L369.00,108.73L370.00,109.35L371.00,109.97L372.00,110.58L373.00,111.19L374.00,111.79L375.00,112.39L376.00,112.99L377.00,113.58L378.00,114.17L379.00,114.75L380.00,115.33L381.00,115.90L382.00,116.47L383.00,117.03L384.00,117.58L385.00,118.13L386.00,118.68L387.00,119.21L388.00,119.74L389.00,120.27L390.00,120.79L391.00,121.30L392.00,121.80L393.00,122.29L394.00,122.78L395.00,123.26L396.00,123.74L397.00,124.20L398.00,124.66L399.00,125.11L400.00,125.55L401.00,125.98L402.00,126.40L403.00,126.81L404.00,127.22L405.00,127.61L406.00,128.00L407.00,128.37L408.00,128.74L409.00,129.09L410.00,129.44L411.00,129.77L412.00,130.10L413.00,130.41L414.00,130.71L415.00,131.00L416.00,131.28L417.00,131.55L418.00,131.80L419.00,132.05L420.00,132.28L421.00,132.50L422.00,132.71L423.00,132.91L424.00,133.09L425.00,133.27L426.00,133.45L427.00,133.61L428.00,133.77L429.00,133.92L430.00,134.07L431.00,134.22L432.00,134.37L433.00,134.51L434.00,134.65L435.00,140.00L436.00,160.00L437.50,190.00L438.80,220.00L439.35,233.40L439.90,222.00L441.00,195.00L442.30,170.00L443.20,152.00L444.20,145.00L445.30,141.20L447.00,139.00L449.50,137.90L452.50,137.60L456.00,137.50L494.50,137.20L532.70,136.40" stroke-width="1.85" stroke-linecap="round"/>
</g>
<rect x="71" y="14" width="2" height="237" fill="#000"/>
<rect x="71" y="249" width="464" height="2" fill="#000"/>
<g font-size="14" text-anchor="end" fill="#000">
<text x="60" y="18.3">30</text>
<text x="60" y="65.7">20</text>
<text x="60" y="113.1">10</text>
<text x="60" y="160.5">0</text>
<text x="60" y="207.9">-10</text>
<text x="60" y="255.3">-20</text>
</g>
<g font-size="14" text-anchor="middle" fill="#000">
<text x="72" y="271.6">0</text>
<text x="187.7" y="271.6">50</text>
<text x="303.5" y="271.6">100</text>
<text x="419.2" y="271.6">150</text>
<text x="535" y="271.6">200</text>
</g>
<text x="295" y="293.5" font-size="14" text-anchor="middle">Temperature (°C)</text>
<text x="12" y="292" font-size="11">Exo Down</text>
<text transform="translate(17,131.3) rotate(-90)" font-size="14" text-anchor="middle">Heat Flow (mW)</text>
<g fill="none" stroke="#000" stroke-width="2">
<line x1="458.5" y1="30" x2="494.5" y2="30"/>
<line x1="458.6" y1="54.2" x2="494.5" y2="54.2" stroke-dasharray="10.3 5"/>
<line x1="457.9" y1="79.1" x2="494" y2="79.1" stroke-dasharray="2.1 2.15"/>
</g>
<g font-size="13.8" fill="#404040" stroke="#404040" stroke-width="0.35">
<text transform="translate(498.3,34.0) scale(0.95,1)">E1</text>
<text transform="translate(498.3,58.1) scale(0.95,1)">E2</text>
<text transform="translate(498.3,82.7) scale(0.95,1)">E3</text>
</g>
</svg>
</body></html>
